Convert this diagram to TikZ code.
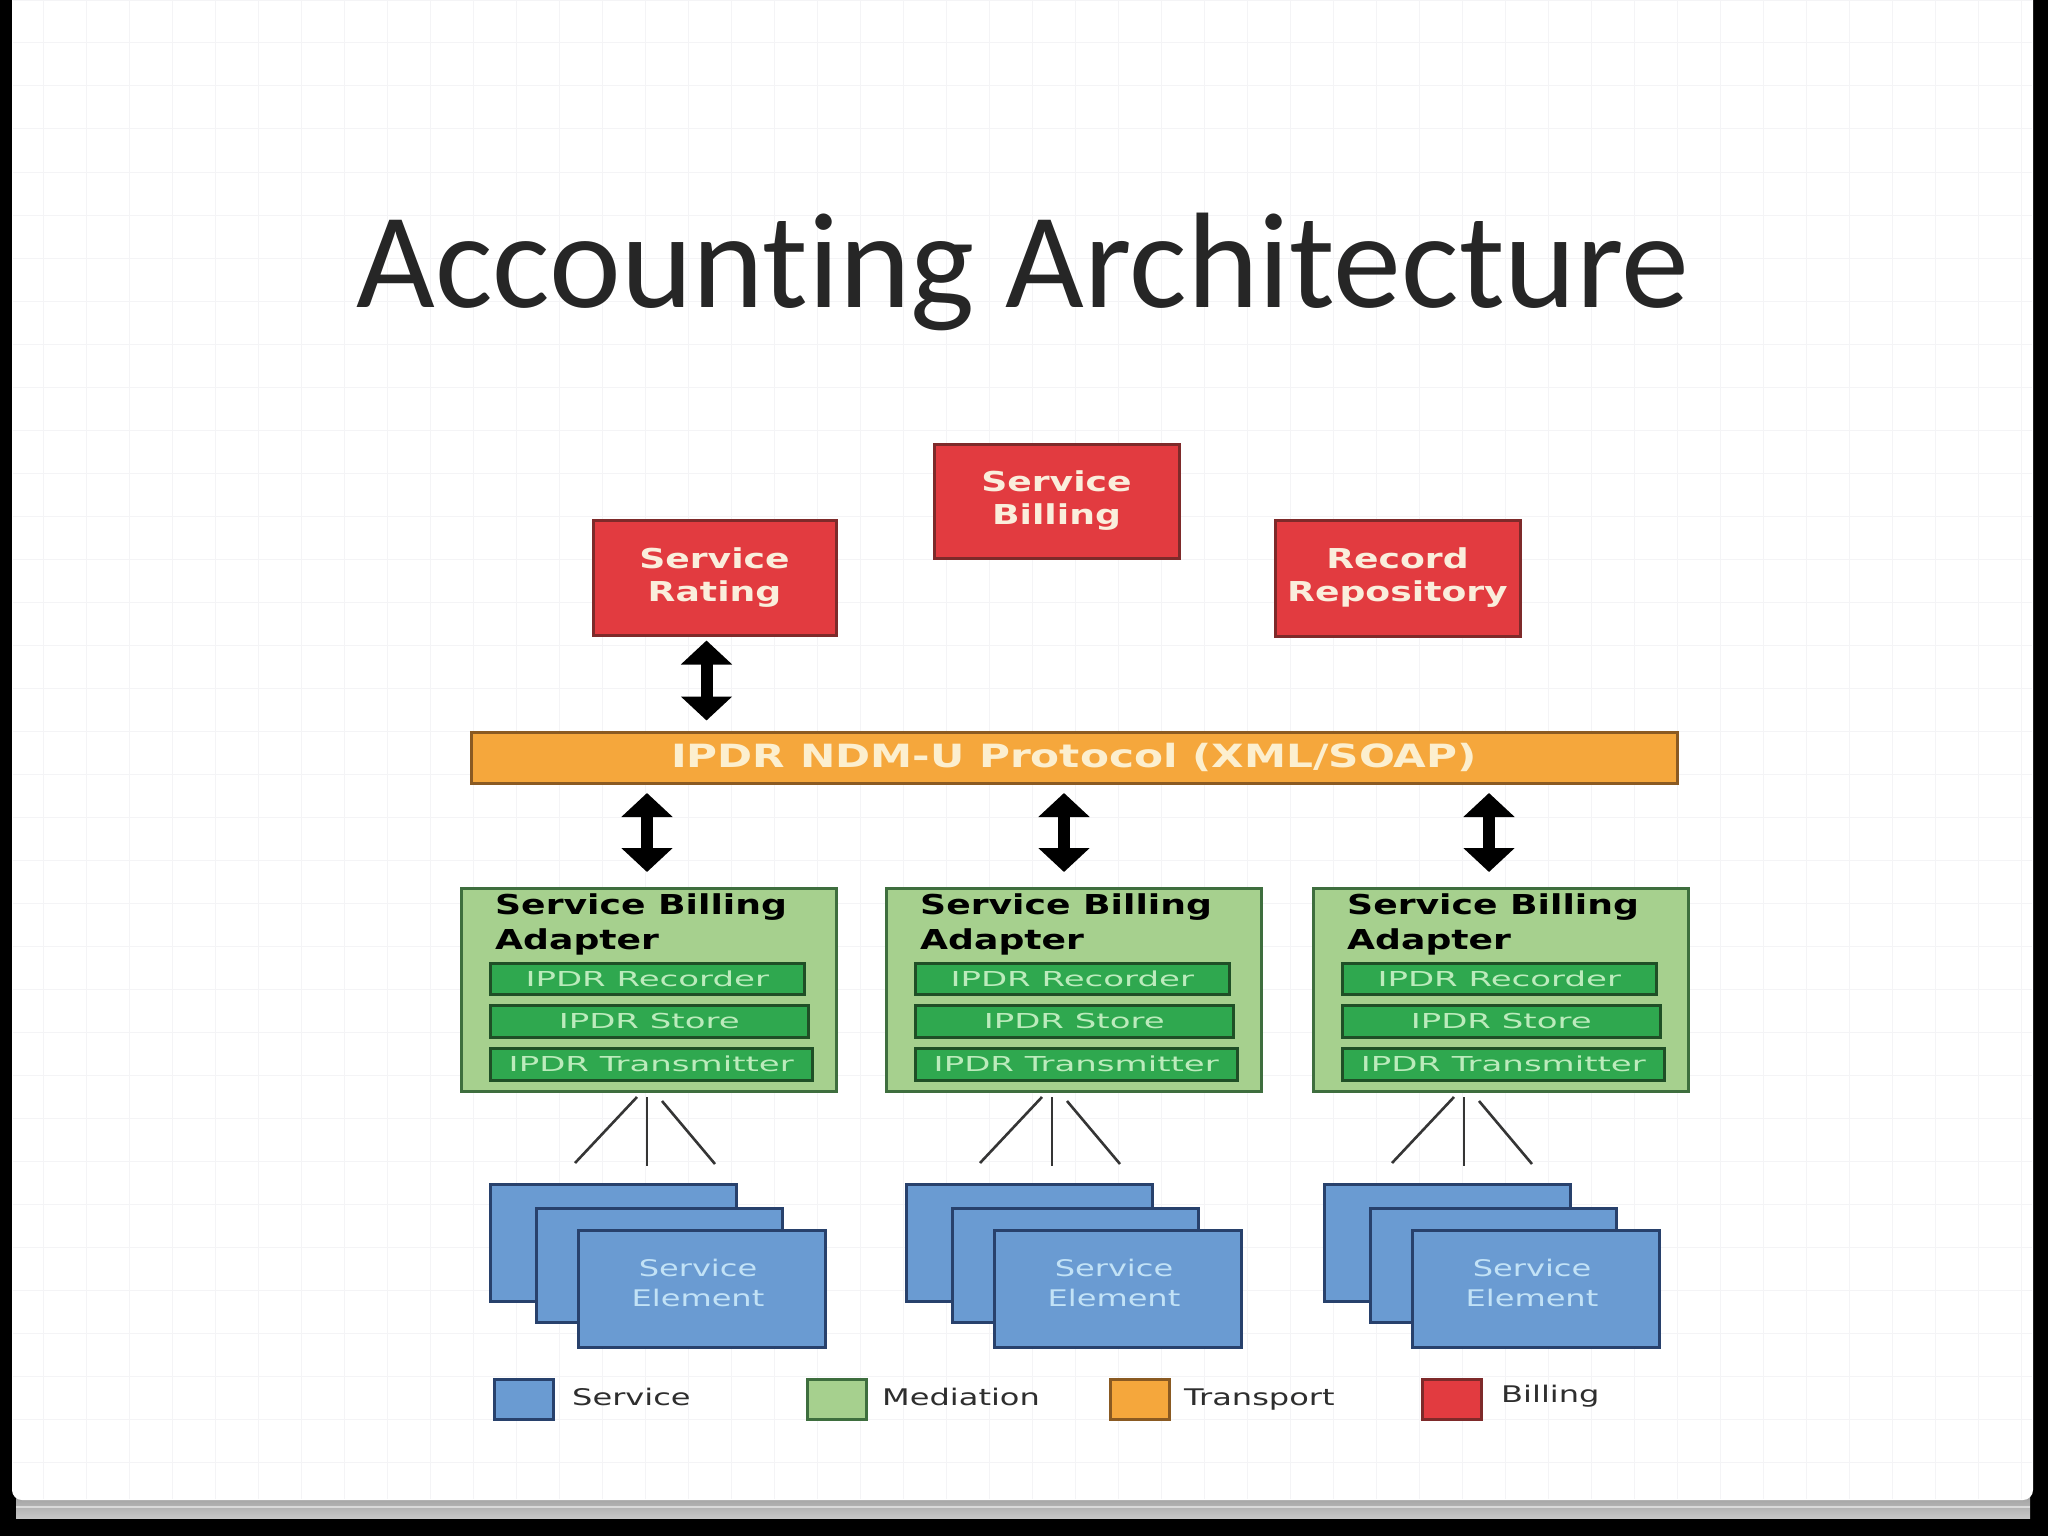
\documentclass[tikz,border=0pt]{standalone}
\usepackage{fontspec}
\usetikzlibrary{arrows.meta,calc}
\newfontfamily\titlef[Ligatures=NoCommon]{Carlito}
\newfontfamily\bw[FakeStretch=1.32]{DejaVu Sans}
\newfontfamily\rw[FakeStretch=1.65]{DejaVu Sans}
\newfontfamily\sw[FakeStretch=1.4]{DejaVu Sans}
\definecolor{titlec}{HTML}{262626}
\definecolor{gridc}{HTML}{F4F4F6}
\definecolor{redf}{HTML}{E23B40}
\definecolor{redd}{HTML}{7E2A2A}
\definecolor{redt}{HTML}{FAEEDC}
\definecolor{orf}{HTML}{F5A73C}
\definecolor{ord}{HTML}{8A5A22}
\definecolor{ort}{HTML}{FCEFCF}
\definecolor{grf}{HTML}{A6D08E}
\definecolor{grd}{HTML}{3E6E3E}
\definecolor{dgf}{HTML}{2FA84F}
\definecolor{dgd}{HTML}{1F4F26}
\definecolor{dgt}{HTML}{BCEBBC}
\definecolor{blf}{HTML}{6A9BD2}
\definecolor{bld}{HTML}{28416C}
\definecolor{blt}{HTML}{C2E2F6}
\definecolor{fanc}{HTML}{353535}
\definecolor{legt}{HTML}{2E2E2E}
\tikzset{
  redbox/.style={draw=redd, line width=3pt, fill=redf, text=redt, inner sep=0pt, align=center,
    font=\bw\bfseries\fontsize{27.4}{33}\selectfont},
  barbox/.style={draw=ord, line width=3pt, fill=orf, text=ort, inner sep=0pt,
    font=\bw\bfseries\fontsize{32}{36}\selectfont},
  adapter/.style={draw=grd, line width=3pt, fill=grf, inner sep=0pt},
  adtext/.style={text=black, inner sep=0pt, align=left, anchor=north west,
    font=\bw\bfseries\fontsize{27.4}{35}\selectfont},
  subbox/.style={draw=dgd, line width=2.5pt, fill=dgf, text=dgt, inner sep=0pt, anchor=north west,
    font=\rw\fontsize{20.6}{24}\selectfont},
  sebox/.style={draw=bld, line width=3pt, fill=blf, inner sep=0pt, anchor=north west},
  setext/.style={text=blt, inner sep=0pt, align=center, font=\sw\fontsize{22.9}{30}\selectfont},
  legbox/.style={draw=black!80, line width=2.5pt, inner sep=0pt, minimum width=59pt, minimum height=40pt, anchor=north west},
  legtext/.style={text=legt, inner sep=0pt, anchor=base west, font=\sw\fontsize{22.9}{28}\selectfont},
  dblarrow/.style={line width=12pt, black, {Triangle[width=50pt,length=24pt]}-{Triangle[width=50pt,length=24pt]}},
  fan/.style={draw=fanc, line width=2.6pt}
}
\begin{document}
\begin{tikzpicture}[x=1pt,y=-1pt]
\useasboundingbox (0,0) rectangle (2048,1536);
% slide background
\fill[black] (0,0) rectangle (2048,1536);
\shade[top color=gray!75, bottom color=gray!45] (16,1495) rectangle (2030,1518);
\draw[gray!30, line width=1.5pt] (16,1507) -- (2030,1507);
\fill[white, rounded corners=10pt] (12,-20) rectangle (2033,1500);
\fill[white] (12,-20) rectangle (2033,1450);
\draw[gridc, line width=1pt, step=43pt] (13,0) grid (2032,1499);
% title
\node[anchor=base, text=titlec, inner sep=0pt, font=\titlef\fontsize{136}{160}\selectfont] (title) at (1023,307) {Accounting Architecture};
% billing layer
\node[redbox, minimum width=245pt, minimum height=114pt] (sbill) at (1056.5,501) {Service\\Billing};
\node[redbox, minimum width=243pt, minimum height=115pt] (srate) at (714.5,577.5) {Service\\Rating};
\node[redbox, minimum width=245pt, minimum height=116pt] (rrep) at (1397.5,578) {Record\\Repository};
% transport bar
\node[barbox, minimum width=1206pt, minimum height=51pt] (bar) at (1074,757.5) {IPDR NDM-U Protocol (XML/SOAP)};
\draw[dblarrow] ([xshift=-8pt,yshift=-4pt]srate.south) -- ([xshift=-8pt,yshift=10pt]srate.south |- bar.north);
% adapters
\foreach \i/\xl/\ax/\sx/\m in {1/460/647/489/647, 2/885/1064/905/1052, 3/1312/1489/1323/1464}{
  \node[adapter, minimum width=375pt, minimum height=203pt, anchor=north west] (a\i) at (\xl,887) {};
  \node[adtext] (at\i) at ({\xl+35},893) {Service Billing\\Adapter};
  \node[subbox, minimum width=314pt, minimum height=31pt] (rec\i) at ({\xl+29},962) {IPDR Recorder};
  \node[subbox, minimum width=318pt, minimum height=32pt] (sto\i) at ({\xl+29},1004) {IPDR Store};
  \node[subbox, minimum width=322pt, minimum height=32pt] (trn\i) at ({\xl+29},1047) {IPDR Transmitter};
  \coordinate (up\i) at (\ax,793);
  \coordinate (dn\i) at (\ax,872);
  \draw[dblarrow] (up\i) -- (dn\i);
  % service elements
  \node[sebox, minimum width=246pt, minimum height=117pt] (sea\i) at (\sx,1183) {};
  \node[sebox, minimum width=246pt, minimum height=114pt] (seb\i) at ({\sx+46},1207) {};
  \node[sebox, minimum width=247pt, minimum height=117pt] (sec\i) at ({\sx+88},1229) {};
  \node[setext] (set\i) at ([xshift=-4pt,yshift=6pt]sec\i.center) {Service\\Element};
  % fan lines
  \coordinate (fl\i t) at ({\m-10},1097); \coordinate (fl\i b) at ({\m-72},1163);
  \coordinate (fm\i t) at (\m,1097);      \coordinate (fm\i b) at (\m,1166);
  \coordinate (fr\i t) at ({\m+15},1101); \coordinate (fr\i b) at ({\m+68},1164);
  \draw[fan] (fl\i t) -- (fl\i b);
  \draw[fan] (fm\i t) -- (fm\i b);
  \draw[fan] (fr\i t) -- (fr\i b);
}
% legend
\node[legbox, fill=blf, draw=bld] (lg1) at (493,1378) {};
\node[legtext] (lt1) at (572,1405) {Service};
\node[legbox, fill=grf, draw=grd] (lg2) at (806,1378) {};
\node[legtext] (lt2) at (882,1405) {Mediation};
\node[legbox, fill=orf, draw=ord] (lg3) at (1109,1378) {};
\node[legtext] (lt3) at (1184,1405) {Transport};
\node[legbox, fill=redf, draw=redd] (lg4) at (1421,1378) {};
\node[legtext] (lt4) at (1501,1402) {Billing};
\end{tikzpicture}
\end{document}
